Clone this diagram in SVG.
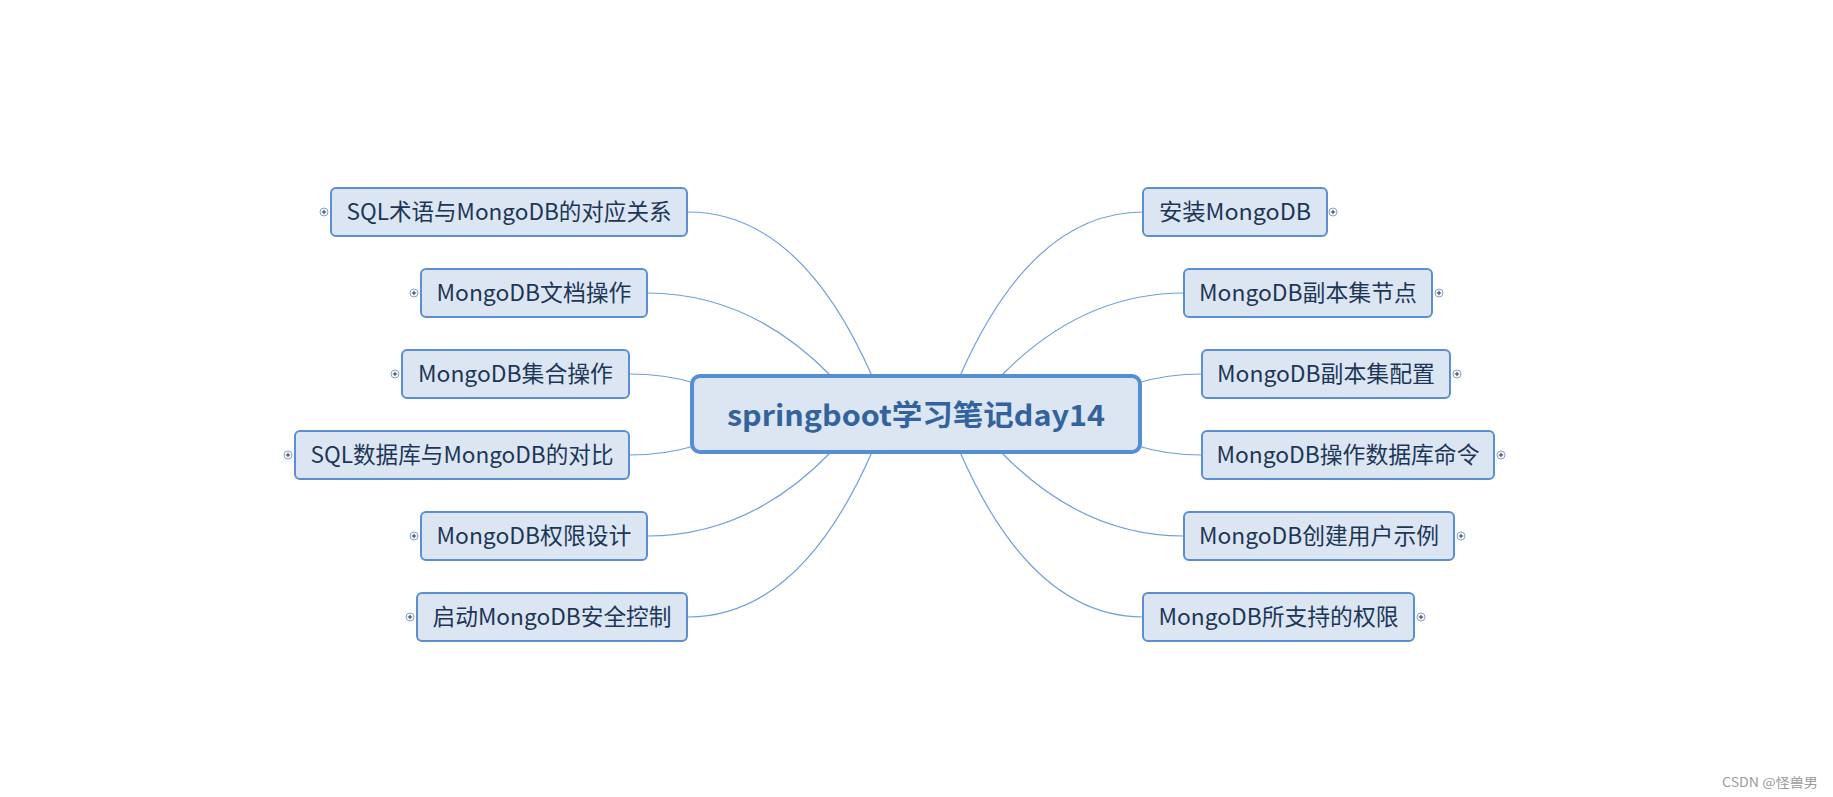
<svg xmlns="http://www.w3.org/2000/svg" width="1833" height="797" viewBox="0 0 1833 797">
<style>
.bg{fill:#ffffff}
.box{fill:#dce6f2;stroke:#5b8fd4;stroke-width:2}
.root{fill:#dce6f2;stroke:#558ed5;stroke-width:4}
.t{font-family:"Noto Sans CJK SC","Microsoft YaHei",sans-serif;font-size:22.5px;fill:#1c3658;text-anchor:middle}
.rt{font-family:"Noto Sans CJK SC","Microsoft YaHei",sans-serif;font-size:29px;font-weight:bold;fill:#33639c;text-anchor:middle}
.c{fill:none;stroke:#6e9edc;stroke-width:1.2}
.ex circle{fill:#ffffff;stroke:#7ea3d8;stroke-width:1}
.ex path{stroke:#333333;stroke-width:1}
.wm{font-family:"Noto Sans CJK SC",sans-serif;font-size:13px;fill:#9a9a9a}
</style>
<defs>
<g id="plus" class="ex"><circle cx="0" cy="0" r="4"/><path d="M-2.2 0H2.2M0 -2.2V2.2"/></g>
</defs>
<rect class="bg" x="0" y="0" width="1833" height="797"/>
<g id="connectors">
<path class="c" d="M688 212 Q800 212 872 376"/>
<path class="c" d="M647 293 Q750 293 831 376"/>
<path class="c" d="M629 374 Q665 374 694 383"/>
<path class="c" d="M629 455 Q665 455 694 446"/>
<path class="c" d="M647 536 Q750 536 831 452"/>
<path class="c" d="M688 617 Q800 617 872 452"/>
<path class="c" d="M1143 212 Q1032 212 960 376"/>
<path class="c" d="M1184 293 Q1082 293 1001 376"/>
<path class="c" d="M1202 374 Q1167 374 1138 383"/>
<path class="c" d="M1202 455 Q1167 455 1138 446"/>
<path class="c" d="M1184 536 Q1082 536 1001 452"/>
<path class="c" d="M1143 617 Q1032 617 960 452"/>
</g>
<g id="root">
<rect class="root" x="692" y="376" width="448" height="76" rx="8"/>
<text class="rt" x="916" y="426" textLength="378" lengthAdjust="spacingAndGlyphs">springboot学习笔记day14</text>
</g>
<g id="n-l1">
<rect class="box" x="331" y="188" width="356" height="48" rx="5"/>
<text class="t" x="509" y="220" textLength="325" lengthAdjust="spacingAndGlyphs">SQL术语与MongoDB的对应关系</text>
<use href="#plus" x="324" y="212"/>
</g>
<g id="n-l2">
<rect class="box" x="421" y="269" width="226" height="48" rx="5"/>
<text class="t" x="534" y="301" textLength="195" lengthAdjust="spacingAndGlyphs">MongoDB文档操作</text>
<use href="#plus" x="414" y="293"/>
</g>
<g id="n-l3">
<rect class="box" x="402" y="350" width="227" height="48" rx="5"/>
<text class="t" x="515.5" y="382" textLength="195" lengthAdjust="spacingAndGlyphs">MongoDB集合操作</text>
<use href="#plus" x="395" y="374"/>
</g>
<g id="n-l4">
<rect class="box" x="295" y="431" width="334" height="48" rx="5"/>
<text class="t" x="462" y="463" textLength="303" lengthAdjust="spacingAndGlyphs">SQL数据库与MongoDB的对比</text>
<use href="#plus" x="288" y="455"/>
</g>
<g id="n-l5">
<rect class="box" x="421" y="512" width="226" height="48" rx="5"/>
<text class="t" x="534" y="544" textLength="195" lengthAdjust="spacingAndGlyphs">MongoDB权限设计</text>
<use href="#plus" x="414" y="536"/>
</g>
<g id="n-l6">
<rect class="box" x="417" y="593" width="270" height="48" rx="5"/>
<text class="t" x="552" y="625" textLength="239" lengthAdjust="spacingAndGlyphs">启动MongoDB安全控制</text>
<use href="#plus" x="410" y="617"/>
</g>
<g id="n-r1">
<rect class="box" x="1143" y="188" width="184" height="48" rx="5"/>
<text class="t" x="1235" y="220" textLength="152" lengthAdjust="spacingAndGlyphs">安装MongoDB</text>
<use href="#plus" x="1333" y="212"/>
</g>
<g id="n-r2">
<rect class="box" x="1184" y="269" width="248" height="48" rx="5"/>
<text class="t" x="1308" y="301" textLength="218" lengthAdjust="spacingAndGlyphs">MongoDB副本集节点</text>
<use href="#plus" x="1439" y="293"/>
</g>
<g id="n-r3">
<rect class="box" x="1202" y="350" width="248" height="48" rx="5"/>
<text class="t" x="1326" y="382" textLength="218" lengthAdjust="spacingAndGlyphs">MongoDB副本集配置</text>
<use href="#plus" x="1457" y="374"/>
</g>
<g id="n-r4">
<rect class="box" x="1202" y="431" width="292" height="48" rx="5"/>
<text class="t" x="1348" y="463" textLength="263" lengthAdjust="spacingAndGlyphs">MongoDB操作数据库命令</text>
<use href="#plus" x="1501" y="455"/>
</g>
<g id="n-r5">
<rect class="box" x="1184" y="512" width="270" height="48" rx="5"/>
<text class="t" x="1319" y="544" textLength="240" lengthAdjust="spacingAndGlyphs">MongoDB创建用户示例</text>
<use href="#plus" x="1461" y="536"/>
</g>
<g id="n-r6">
<rect class="box" x="1143" y="593" width="271" height="48" rx="5"/>
<text class="t" x="1278.5" y="625" textLength="240" lengthAdjust="spacingAndGlyphs">MongoDB所支持的权限</text>
<use href="#plus" x="1421" y="617"/>
</g>
<text class="wm" x="1722" y="787" textLength="96" lengthAdjust="spacingAndGlyphs">CSDN @怪兽男</text>
</svg>
